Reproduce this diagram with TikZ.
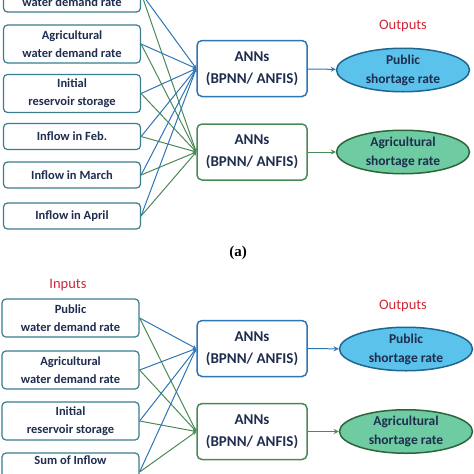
\documentclass[tikz,border=0pt]{standalone}
\usepackage{fontspec}
\setmainfont{Carlito}
\newfontfamily\capfont{Liberation Serif}
\usetikzlibrary{arrows.meta,shapes.geometric}
\definecolor{txtnavy}{HTML}{1F2D4E}
\definecolor{inbord}{HTML}{3A7D8E}
\definecolor{annblue}{HTML}{2E75B6}
\definecolor{anngreen}{HTML}{4A8A56}
\definecolor{outblue}{HTML}{5BC2EC}
\definecolor{outblued}{HTML}{1E6690}
\definecolor{outgreen}{HTML}{6ECBA2}
\definecolor{outgreend}{HTML}{2C6638}
\definecolor{hdrred}{HTML}{D0283A}
\begin{document}
\begin{tikzpicture}[x=1pt,y=-1pt,
    font=\bfseries\fontsize{12.5}{18}\selectfont, text=txtnavy,
    inbox/.style={draw=inbord, line width=1.2pt, rounded corners=4pt, fill=white,
                  minimum width=137pt, align=center, inner sep=2pt},
    annbox/.style={rounded corners=5pt, line width=1.5pt, fill=white,
                   minimum width=110pt, minimum height=56pt, align=center,
                   font=\bfseries\fontsize{15}{22}\selectfont},
    outell/.style={ellipse, line width=1.5pt, minimum width=133pt, minimum height=42pt,
                   align=center, inner sep=0pt, font=\bfseries\fontsize{13.5}{19}\selectfont},
    hdr/.style={text=hdrred, font=\fontsize{14.5}{16}\selectfont},
    tob/.style={draw=annblue, line width=1pt, -{Stealth[length=3.5pt,width=3.5pt]}},
    tog/.style={draw=anngreen, line width=1pt, -{Stealth[length=3.5pt,width=3.5pt]}},
    outb/.style={tob, -{Stealth[length=5pt,width=5pt]}},
    outg/.style={tog, -{Stealth[length=5pt,width=5pt]}}]
  \clip (0,0) rectangle (474,474);

  % panel (a)
  \node[inbox, minimum height=38pt] (a1) at (72,-7)    {Public\\water demand rate};
  \node[inbox, minimum height=38pt] (a2) at (72,44)    {Agricultural\\water demand rate};
  \node[inbox, minimum height=38pt] (a3) at (72,93.5)  {Initial\\reservoir storage};
  \node[inbox, minimum height=26pt] (a4) at (72,136.5) {Inflow in Feb.};
  \node[inbox, minimum height=26pt] (a5) at (72,175)   {Inflow in March};
  \node[inbox, minimum height=26pt] (a6) at (72,216)   {Inflow in April};
  \node[annbox, draw=annblue]  (aB) at (252,68.5) {ANNs\\(BPNN/ ANFIS)};
  \node[annbox, draw=anngreen] (aG) at (252,152)  {ANNs\\(BPNN/ ANFIS)};
  \node[outell, draw=outblued, fill=outblue]   (aP) at (403,70)  {Public\\shortage rate};
  \node[outell, draw=outgreend, fill=outgreen] (aA) at (403,152) {Agricultural\\shortage rate};
  \node[hdr] (aOut) at (403,26) {Outputs};
  \foreach \i in {a1,a2,a3,a4,a5,a6}{
    \draw[tob] (\i.east) -- (aB.west);
    \draw[tog] (\i.east) -- (aG.west);
  }
  \draw[outb] (aB) -- (aP);
  \draw[outg] (aG) -- (aA);
  \node[font=\capfont\bfseries\fontsize{15}{17}\selectfont, text=black] (capa) at (238,253) {(a)};

  % panel (b)
  \node[hdr] (bIn) at (68,285) {Inputs};
  \node[inbox, minimum height=38pt] (b1) at (70.5,318) {Public\\water demand rate};
  \node[inbox, minimum height=38pt] (b2) at (70.5,370) {Agricultural\\water demand rate};
  \node[inbox, minimum height=38pt] (b3) at (70.5,421) {Initial\\reservoir storage};
  \node[inbox, minimum height=38pt] (b4) at (70.5,472) {Sum of Inflow\\\strut};
  \node[annbox, draw=annblue]  (bB) at (252,348.5) {ANNs\\(BPNN/ ANFIS)};
  \node[annbox, draw=anngreen] (bG) at (252,431.5) {ANNs\\(BPNN/ ANFIS)};
  \node[outell, draw=outblued, fill=outblue]   (bP) at (406,349)   {Public\\shortage rate};
  \node[outell, draw=outgreend, fill=outgreen] (bA) at (406,431.5) {Agricultural\\shortage rate};
  \node[hdr] (bOut) at (403,306) {Outputs};
  \foreach \i in {b1,b2,b3,b4}{
    \draw[tob] (\i.east) -- (bB.west);
    \draw[tog] (\i.east) -- (bG.west);
  }
  \draw[outb] (bB) -- (bP);
  \draw[outg] (bG) -- (bA);
\end{tikzpicture}
\end{document}
